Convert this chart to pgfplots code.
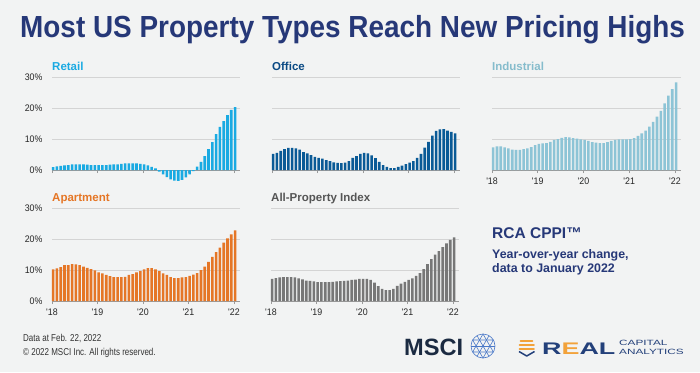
\documentclass[border=0pt]{standalone}
\usepackage{pgfplots}
\pgfplotsset{compat=1.18}
\usepackage{pgfplotstable}
\usepackage{fontspec}
\setmainfont{Liberation Sans}
\newfontfamily\condfont[FakeStretch=0.8]{Liberation Sans}
\newfontfamily\titlefont[FakeStretch=0.915]{Liberation Sans}
\newfontfamily\tickfont[FakeStretch=0.93]{Liberation Sans}

\definecolor{bg}{HTML}{F2F3F3}
\definecolor{navy}{HTML}{263878}
\definecolor{retail}{HTML}{1AAAE2}
\definecolor{office}{HTML}{0A5A96}
\definecolor{officet}{HTML}{0B4A84}
\definecolor{indus}{HTML}{8DC4D6}
\definecolor{industt}{HTML}{86BCCC}
\definecolor{apart}{HTML}{E57626}
\definecolor{allp}{HTML}{777777}
\definecolor{allpt}{HTML}{555555}
\definecolor{gridc}{HTML}{D4D4D4}
\definecolor{zeroc}{HTML}{9A9A9A}
\definecolor{msci}{HTML}{1B2A41}
\definecolor{globe}{HTML}{4A78C8}
\definecolor{realnavy}{HTML}{23407A}
\definecolor{realorange}{HTML}{F2A23A}

\pgfplotstableread{
m retail office industrial apartment allp
0 0.9 5.2 7.3 10.2 7.1
1 1.2 5.5 7.6 10.5 7.4
2 1.3 6.2 7.6 10.9 7.6
3 1.5 6.7 7.3 11.6 7.7
4 1.6 7.1 7.0 11.6 7.7
5 1.8 7.1 6.6 11.9 7.7
6 1.8 7.0 6.5 11.8 7.6
7 1.8 6.6 6.5 11.6 7.3
8 1.8 5.8 6.7 11.1 7.0
9 1.7 5.4 7.0 10.7 6.6
10 1.6 4.8 7.4 10.3 6.5
11 1.6 4.2 8.0 9.9 6.3
12 1.6 3.9 8.4 9.2 6.1
13 1.6 3.7 8.6 8.9 6.1
14 1.6 3.2 8.7 8.4 6.1
15 1.7 2.9 9.1 8.0 6.1
16 1.8 2.5 9.7 7.7 6.2
17 1.8 2.3 10.0 7.7 6.3
18 2.0 2.2 10.4 7.7 6.4
19 2.1 2.4 10.6 7.8 6.5
20 2.1 2.9 10.5 8.4 6.6
21 2.1 3.9 10.3 8.7 6.8
22 2.1 4.5 10.1 9.2 6.9
23 2.0 5.2 9.9 9.6 7.1
24 1.8 5.5 9.7 10.2 7.1
25 1.5 5.4 9.4 10.6 7.1
26 1.0 4.7 9.0 10.6 6.8
27 0.5 3.8 8.8 10.2 5.9
28 -0.5 2.6 8.7 9.6 4.8
29 -1.4 1.6 8.7 8.9 3.9
30 -2.3 1.0 9.0 8.4 3.5
31 -3.0 0.6 9.4 7.7 3.5
32 -3.4 0.6 9.7 7.4 3.9
33 -3.5 1.0 9.9 7.4 4.9
34 -3.2 1.4 9.9 7.6 5.6
35 -2.4 1.9 9.9 7.7 6.2
36 -1.4 2.4 10.0 8.1 6.8
37 -0.4 2.9 10.3 8.5 7.3
38 1.1 3.9 11.0 9.0 8.1
39 2.6 5.2 11.8 10.0 9.0
40 4.5 7.2 12.7 11.1 10.3
41 6.7 9.1 14.0 12.6 11.9
42 9.0 11.1 15.5 14.2 13.5
43 11.6 12.6 17.2 15.8 15.0
44 13.9 13.1 19.1 17.2 16.1
45 15.8 13.2 21.5 18.8 17.4
46 17.7 12.7 24.0 20.2 18.6
47 19.4 12.3 26.1 21.5 19.7
48 20.3 11.8 28.3 22.8 20.5
}\cppi

\pgfplotsset{
  panel/.style={
    scale only axis, anchor=south west,
    width=188pt, height=93pt,
    xmin=-0.3, xmax=49.3, ymin=0, ymax=30,
    clip=false,
    axis x line*=bottom, axis y line*=left,
    axis line style={-},
    y axis line style={draw=none},
    x axis line style={draw=zeroc, line width=0.7pt},
    xtick={-0.3,11.7,23.7,35.7,47.7},
    xticklabels={},
    ytick={0,10,20,30}, yticklabels={},
    ymajorgrids, grid style={gridc, line width=0.8pt},
    tick align=outside,
    major tick length=3pt,
    x tick style={zeroc, line width=0.6pt},
    y tick style={draw=none},
    tick label style={font=\tickfont\fontsize{9.5}{10}\selectfont, text=black!85},
    xticklabel style={yshift=-1.5pt},
    yticklabel style={xshift=-3pt},
    ybar, bar width=2.6pt,
  },
  xlab/.style={xticklabels={'18,'19,'20,'21,'22}},
  ylab/.style={yticklabels={0\%,10\%,20\%,30\%}},
}

\begin{document}
\begin{tikzpicture}
\fill[bg] (0pt,0pt) rectangle (700pt,-372pt);

\node[anchor=base west, inner sep=0, text=navy, font=\titlefont\bfseries\fontsize{30.5}{32}\selectfont] at (20pt,-37pt) {Most US Property Types Reach New Pricing Highs};

% Retail
\begin{axis}[panel, ylab, at={(52pt,-170pt)}]
\addplot[fill=retail, draw=none] table[x=m, y=retail]{\cppi};
\end{axis}
% Office
\begin{axis}[panel, at={(272pt,-170pt)}]
\addplot[fill=office, draw=none] table[x=m, y=office]{\cppi};
\end{axis}
% Industrial
\begin{axis}[panel, xlab, width=189pt, at={(492pt,-170pt)}]
\addplot[fill=indus, draw=none] table[x=m, y=industrial]{\cppi};
\end{axis}
% Apartment
\begin{axis}[panel, xlab, ylab, at={(52pt,-301pt)}]
\addplot[fill=apart, draw=none] table[x=m, y=apartment]{\cppi};
\end{axis}
% All-Property
\begin{axis}[panel, xlab, at={(271pt,-301pt)}]
\addplot[fill=allp, draw=none] table[x=m, y=allp]{\cppi};
\end{axis}

\begin{scope}[every node/.style={anchor=base west, inner sep=0, font=\bfseries\fontsize{11.5}{12}\selectfont}]
\node[text=retail] at (52pt,-70.5pt) {Retail};
\node[text=officet] at (272pt,-70.5pt) {Office};
\node[text=industt] at (492pt,-70.5pt) {Industrial};
\node[text=apart] at (52pt,-201pt) {Apartment};
\node[text=allpt] at (271pt,-201pt) {All-Property Index};
\end{scope}

\node[anchor=base west, inner sep=0, text=navy, font=\bfseries\fontsize{15.5}{16}\selectfont] at (492pt,-238pt) {RCA CPPI™};
\node[anchor=base west, inner sep=0, text=navy, font=\bfseries\fontsize{12.4}{13}\selectfont] at (492pt,-258pt) {Year-over-year change,};
\node[anchor=base west, inner sep=0, text=navy, font=\bfseries\fontsize{12.4}{13}\selectfont] at (492pt,-272pt) {data to January 2022};

\node[anchor=base west, inner sep=0, text=black!80, font=\condfont\fontsize{10}{11}\selectfont] at (23pt,-341pt) {Data at Feb. 22, 2022};
\node[anchor=base west, inner sep=0, text=black!80, font=\condfont\fontsize{10}{11}\selectfont] at (23pt,-355pt) {© 2022 MSCI Inc. All rights reserved.};

% MSCI logo
\node[anchor=base west, inner sep=0, text=msci, font=\bfseries\fontsize{23.6}{24}\selectfont] at (404pt,-355pt) {MSCI};
\begin{scope}[shift={(483pt,-346pt)}, globe, line width=0.6pt]
\draw (0,0) circle (12pt);
\draw (90:12pt) -- (210:12pt) -- (330:12pt) -- cycle;
\draw (30:12pt) -- (150:12pt) -- (270:12pt) -- cycle;
\draw (0:12pt) -- (180:12pt);
\draw (60:12pt) -- (240:12pt);
\draw (120:12pt) -- (300:12pt);
\fill (0,0) circle (1pt);
\end{scope}

% REAL Capital Analytics logo
\draw[realorange, line width=1.6pt, line cap=round] (520.5pt,-341pt) -- (532.5pt,-341pt);
\draw[realorange, line width=1.6pt, line cap=round] (519.5pt,-345pt) -- (534pt,-345pt);
\draw[realorange, line width=1.6pt, line cap=round] (519.5pt,-349pt) -- (534pt,-349pt);
\draw[realnavy, line width=1.5pt, line join=round] (519pt,-351.5pt) -- (526.7pt,-356pt) -- (534.5pt,-351.5pt);
\node[anchor=base west, inner sep=0, font=\bfseries\fontsize{16.8}{17}\selectfont] at (542pt,-354.5pt) {\scalebox{1.6}[1]{\textcolor{realnavy}{R}\textcolor{realorange}{E}\textcolor{realnavy}{AL}}};
\node[anchor=base west, inner sep=0, text=realnavy, font=\fontsize{7.6}{8}\selectfont] at (619pt,-345pt) {\scalebox{1.55}[1]{CAPITAL}};
\node[anchor=base west, inner sep=0, text=realnavy, font=\fontsize{7.6}{8}\selectfont] at (619pt,-354.5pt) {\scalebox{1.55}[1]{ANALYTICS}};
\end{tikzpicture}
\end{document}
